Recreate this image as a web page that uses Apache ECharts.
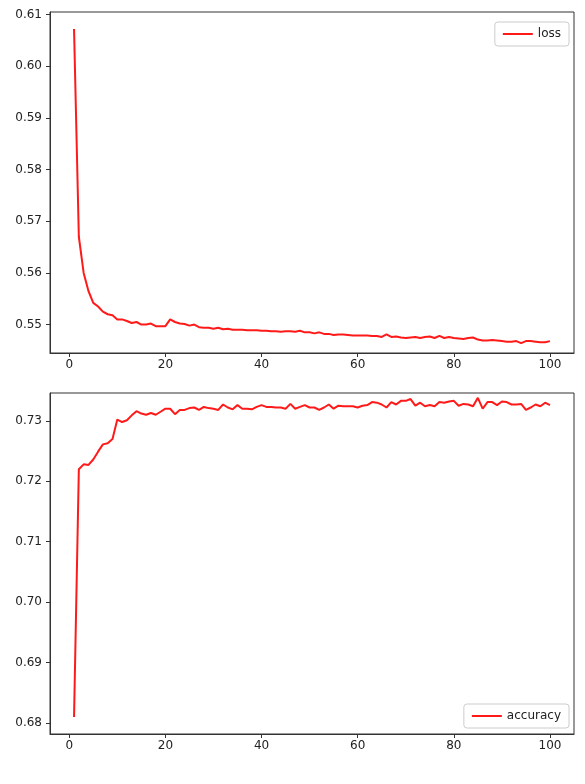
<!DOCTYPE html>
<html>
<head>
<meta charset="utf-8">
<script src="https://cdn.jsdelivr.net/npm/echarts@6/dist/echarts.min.js"></script>
<style>body{margin:0;background:#fff}#c{width:585px;height:784px}</style>
</head>
<body>
<div id="c"></div>
<script>
// epochs 1..100
const epochs = [];
for (let i = 1; i <= 100; i++) epochs.push(i);

const loss = [
  0.6072, 0.5670, 0.5600, 0.5565, 0.5542, 0.5535, 0.5525, 0.5520, 0.5518, 0.5510,
  0.5510, 0.5507, 0.5503, 0.5505, 0.5500, 0.5500, 0.5502, 0.5497, 0.5497, 0.5497,
  0.5510, 0.5505, 0.5502, 0.5501, 0.5498, 0.5500, 0.5495, 0.5494, 0.5494, 0.5492,
  0.5494, 0.5491, 0.5492, 0.5490, 0.5490, 0.5490, 0.5489, 0.5489, 0.5489, 0.5488,
  0.5488, 0.5487, 0.5487, 0.5486, 0.5487, 0.5487, 0.5486, 0.5488, 0.5485, 0.5485,
  0.5483, 0.5485, 0.5482, 0.5482, 0.5480, 0.5481, 0.5481, 0.5480, 0.5479, 0.5479,
  0.5479, 0.5479, 0.5478, 0.5478, 0.5476, 0.5481, 0.5476, 0.5477, 0.5475, 0.5474,
  0.5475, 0.5476, 0.5474, 0.5476, 0.5477, 0.5474, 0.5478, 0.5474, 0.5476, 0.5474,
  0.5473, 0.5472, 0.5474, 0.5475, 0.5471, 0.5469, 0.5469, 0.5470, 0.5469, 0.5468,
  0.5467, 0.5467, 0.5468, 0.5464, 0.5468, 0.5468, 0.5467, 0.5466, 0.5466, 0.5468
];

const accuracy = [
  0.6810, 0.7220, 0.7228, 0.7227, 0.7236, 0.7249, 0.7261, 0.7263, 0.7270, 0.7302,
  0.7298, 0.7301, 0.7309, 0.7316, 0.7312, 0.7310, 0.7313, 0.7310, 0.7315, 0.7320,
  0.7320, 0.7311, 0.7318, 0.7318, 0.7321, 0.7322, 0.7318, 0.7323, 0.7321, 0.7320,
  0.7318, 0.7327, 0.7322, 0.7319, 0.7326, 0.7320, 0.7320, 0.7319, 0.7323, 0.7326,
  0.7323, 0.7323, 0.7322, 0.7322, 0.7320, 0.7328, 0.7320, 0.7323, 0.7326, 0.7322,
  0.7322, 0.7318, 0.7322, 0.7327, 0.7320, 0.7325, 0.7324, 0.7324, 0.7324, 0.7322,
  0.7325, 0.7326, 0.7331, 0.7330, 0.7327, 0.7322, 0.7331, 0.7327, 0.7333, 0.7333,
  0.7336, 0.7325, 0.7330, 0.7324, 0.7326, 0.7324, 0.7331, 0.7330, 0.7332, 0.7333,
  0.7325, 0.7328, 0.7327, 0.7324, 0.7338, 0.7320, 0.7331, 0.7331, 0.7326, 0.7332,
  0.7331, 0.7327, 0.7327, 0.7328, 0.7318, 0.7322, 0.7327, 0.7324, 0.7330, 0.7326
];

const xTicks = [0, 20, 40, 60, 80, 100];
const lossTicks = [0.55, 0.56, 0.57, 0.58, 0.59, 0.60, 0.61];
const accTicks = [0.68, 0.69, 0.70, 0.71, 0.72, 0.73];

const chart = echarts.init(document.getElementById('c'), null, { renderer: 'canvas' });

const axisText = { color: '#222', fontSize: 12, fontFamily: 'DejaVu Sans' };
const line = { show: true, onZero: false, lineStyle: { color: '#333', width: 1 } };
const tick = vals => ({ show: true, inside: false, length: 4, lineStyle: { color: '#333' }, customValues: vals });

function xAxis(idx) {
  return {
    type: 'value', gridIndex: idx, min: -4, max: 105,
    axisLine: line, splitLine: { show: false },
    axisTick: tick(xTicks),
    axisLabel: Object.assign({ customValues: xTicks, margin: 6 }, axisText)
  };
}

function yAxis(idx, min, max, vals) {
  return {
    type: 'value', gridIndex: idx, min: min, max: max,
    axisLine: line, splitLine: { show: false },
    axisTick: tick(vals),
    axisLabel: Object.assign({ customValues: vals, formatter: v => v.toFixed(2) }, axisText)
  };
}

const legendBase = { orient: 'vertical', itemWidth: 30, itemHeight: 2, icon: 'rect',
  textStyle: axisText, borderColor: '#ccc', borderWidth: 1, borderRadius: 3, padding: [6, 8] };

chart.setOption({
  animation: false,
  grid: [
    { left: 50, right: 11, top: 12, height: 341, show: true, borderColor: '#333', borderWidth: 1 },
    { left: 50, right: 11, top: 393, height: 341, show: true, borderColor: '#333', borderWidth: 1 }
  ],
  legend: [
    Object.assign({ data: ['loss'], right: 16, top: 22 }, legendBase),
    Object.assign({ data: ['accuracy'], right: 16, top: 704 }, legendBase)
  ],
  xAxis: [xAxis(0), xAxis(1)],
  yAxis: [yAxis(0, 0.5445, 0.6105, lossTicks), yAxis(1, 0.6782, 0.7346, accTicks)],
  series: [
    { name: 'loss', type: 'line', xAxisIndex: 0, yAxisIndex: 0, showSymbol: false,
      color: '#ff1a1a', lineStyle: { width: 2 },
      data: epochs.map((e, i) => [e, loss[i]]) },
    { name: 'accuracy', type: 'line', xAxisIndex: 1, yAxisIndex: 1, showSymbol: false,
      color: '#ff1a1a', lineStyle: { width: 2 },
      data: epochs.map((e, i) => [e, accuracy[i]]) }
  ]
});
</script>
</body>
</html>
